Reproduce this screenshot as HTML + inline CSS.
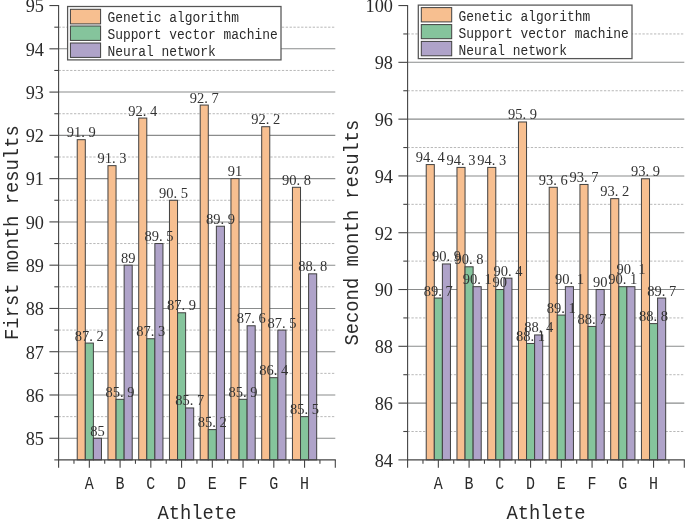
<!DOCTYPE html>
<html><head><meta charset="utf-8"><title>Athlete results</title>
<style>html,body{margin:0;padding:0;background:#fff;}svg{display:block;}</style></head>
<body><svg width="685" height="520" viewBox="0 0 685 520">
<rect width="685" height="520" fill="#fff"/>
<line x1="58.60" y1="416.63" x2="335.30" y2="416.63" stroke="#9a9a9a" stroke-width="0.7" stroke-dasharray="2.3 1.55"/>
<line x1="58.60" y1="373.36" x2="335.30" y2="373.36" stroke="#9a9a9a" stroke-width="0.7" stroke-dasharray="2.3 1.55"/>
<line x1="58.60" y1="330.09" x2="335.30" y2="330.09" stroke="#9a9a9a" stroke-width="0.7" stroke-dasharray="2.3 1.55"/>
<line x1="58.60" y1="286.81" x2="335.30" y2="286.81" stroke="#9a9a9a" stroke-width="0.7" stroke-dasharray="2.3 1.55"/>
<line x1="58.60" y1="243.54" x2="335.30" y2="243.54" stroke="#9a9a9a" stroke-width="0.7" stroke-dasharray="2.3 1.55"/>
<line x1="58.60" y1="200.27" x2="335.30" y2="200.27" stroke="#9a9a9a" stroke-width="0.7" stroke-dasharray="2.3 1.55"/>
<line x1="58.60" y1="157.00" x2="335.30" y2="157.00" stroke="#9a9a9a" stroke-width="0.7" stroke-dasharray="2.3 1.55"/>
<line x1="58.60" y1="113.73" x2="335.30" y2="113.73" stroke="#9a9a9a" stroke-width="0.7" stroke-dasharray="2.3 1.55"/>
<line x1="58.60" y1="70.46" x2="335.30" y2="70.46" stroke="#9a9a9a" stroke-width="0.7" stroke-dasharray="2.3 1.55"/>
<line x1="58.60" y1="27.19" x2="335.30" y2="27.19" stroke="#9a9a9a" stroke-width="0.7" stroke-dasharray="2.3 1.55"/>
<line x1="58.60" y1="438.26" x2="335.30" y2="438.26" stroke="#8a8c8c" stroke-width="1.05"/>
<line x1="58.60" y1="394.99" x2="335.30" y2="394.99" stroke="#8a8c8c" stroke-width="1.05"/>
<line x1="58.60" y1="351.72" x2="335.30" y2="351.72" stroke="#8a8c8c" stroke-width="1.05"/>
<line x1="58.60" y1="308.45" x2="335.30" y2="308.45" stroke="#8a8c8c" stroke-width="1.05"/>
<line x1="58.60" y1="265.18" x2="335.30" y2="265.18" stroke="#8a8c8c" stroke-width="1.05"/>
<line x1="58.60" y1="221.91" x2="335.30" y2="221.91" stroke="#8a8c8c" stroke-width="1.05"/>
<line x1="58.60" y1="178.64" x2="335.30" y2="178.64" stroke="#8a8c8c" stroke-width="1.05"/>
<line x1="58.60" y1="135.36" x2="335.30" y2="135.36" stroke="#8a8c8c" stroke-width="1.05"/>
<line x1="58.60" y1="92.09" x2="335.30" y2="92.09" stroke="#8a8c8c" stroke-width="1.05"/>
<line x1="58.60" y1="48.82" x2="335.30" y2="48.82" stroke="#8a8c8c" stroke-width="1.05"/>
<rect x="77.22" y="139.69" width="8.08" height="320.21" fill="#F7BF90" stroke="#404040" stroke-width="1"/>
<rect x="85.30" y="343.07" width="8.08" height="116.83" fill="#85C49C" stroke="#404040" stroke-width="1"/>
<rect x="93.38" y="438.26" width="8.08" height="21.64" fill="#AFA3C9" stroke="#404040" stroke-width="1"/>
<rect x="107.97" y="165.65" width="8.08" height="294.25" fill="#F7BF90" stroke="#404040" stroke-width="1"/>
<rect x="116.05" y="399.32" width="8.08" height="60.58" fill="#85C49C" stroke="#404040" stroke-width="1"/>
<rect x="124.13" y="265.18" width="8.08" height="194.72" fill="#AFA3C9" stroke="#404040" stroke-width="1"/>
<rect x="138.71" y="118.06" width="8.08" height="341.84" fill="#F7BF90" stroke="#404040" stroke-width="1"/>
<rect x="146.79" y="338.74" width="8.08" height="121.16" fill="#85C49C" stroke="#404040" stroke-width="1"/>
<rect x="154.87" y="243.54" width="8.08" height="216.36" fill="#AFA3C9" stroke="#404040" stroke-width="1"/>
<rect x="169.46" y="200.27" width="8.08" height="259.63" fill="#F7BF90" stroke="#404040" stroke-width="1"/>
<rect x="177.54" y="312.78" width="8.08" height="147.12" fill="#85C49C" stroke="#404040" stroke-width="1"/>
<rect x="185.62" y="407.97" width="8.08" height="51.93" fill="#AFA3C9" stroke="#404040" stroke-width="1"/>
<rect x="200.20" y="105.07" width="8.08" height="354.83" fill="#F7BF90" stroke="#404040" stroke-width="1"/>
<rect x="208.28" y="429.61" width="8.08" height="30.29" fill="#85C49C" stroke="#404040" stroke-width="1"/>
<rect x="216.36" y="226.23" width="8.08" height="233.67" fill="#AFA3C9" stroke="#404040" stroke-width="1"/>
<rect x="230.95" y="178.64" width="8.08" height="281.26" fill="#F7BF90" stroke="#404040" stroke-width="1"/>
<rect x="239.03" y="399.32" width="8.08" height="60.58" fill="#85C49C" stroke="#404040" stroke-width="1"/>
<rect x="247.11" y="325.76" width="8.08" height="134.14" fill="#AFA3C9" stroke="#404040" stroke-width="1"/>
<rect x="261.69" y="126.71" width="8.08" height="333.19" fill="#F7BF90" stroke="#404040" stroke-width="1"/>
<rect x="269.77" y="377.68" width="8.08" height="82.22" fill="#85C49C" stroke="#404040" stroke-width="1"/>
<rect x="277.85" y="330.09" width="8.08" height="129.81" fill="#AFA3C9" stroke="#404040" stroke-width="1"/>
<rect x="292.44" y="187.29" width="8.08" height="272.61" fill="#F7BF90" stroke="#404040" stroke-width="1"/>
<rect x="300.52" y="416.63" width="8.08" height="43.27" fill="#85C49C" stroke="#404040" stroke-width="1"/>
<rect x="308.60" y="273.83" width="8.08" height="186.07" fill="#AFA3C9" stroke="#404040" stroke-width="1"/>
<line x1="58.60" y1="5.00" x2="58.60" y2="460.45" stroke="#444444" stroke-width="1.1"/>
<line x1="58.05" y1="459.90" x2="335.85" y2="459.90" stroke="#444444" stroke-width="1.1"/>
<line x1="49.40" y1="438.26" x2="58.60" y2="438.26" stroke="#444444" stroke-width="1.1"/>
<text transform="translate(44.00,445.06)" x="-18.30 -9.15" y="0" font-family="'Liberation Serif', serif" font-size="18.3" fill="#2a2a2a">85</text>
<line x1="49.40" y1="394.99" x2="58.60" y2="394.99" stroke="#444444" stroke-width="1.1"/>
<text transform="translate(44.00,401.79)" x="-18.30 -9.15" y="0" font-family="'Liberation Serif', serif" font-size="18.3" fill="#2a2a2a">86</text>
<line x1="49.40" y1="351.72" x2="58.60" y2="351.72" stroke="#444444" stroke-width="1.1"/>
<text transform="translate(44.00,358.52)" x="-18.30 -9.15" y="0" font-family="'Liberation Serif', serif" font-size="18.3" fill="#2a2a2a">87</text>
<line x1="49.40" y1="308.45" x2="58.60" y2="308.45" stroke="#444444" stroke-width="1.1"/>
<text transform="translate(44.00,315.25)" x="-18.30 -9.15" y="0" font-family="'Liberation Serif', serif" font-size="18.3" fill="#2a2a2a">88</text>
<line x1="49.40" y1="265.18" x2="58.60" y2="265.18" stroke="#444444" stroke-width="1.1"/>
<text transform="translate(44.00,271.98)" x="-18.30 -9.15" y="0" font-family="'Liberation Serif', serif" font-size="18.3" fill="#2a2a2a">89</text>
<line x1="49.40" y1="221.91" x2="58.60" y2="221.91" stroke="#444444" stroke-width="1.1"/>
<text transform="translate(44.00,228.71)" x="-18.30 -9.15" y="0" font-family="'Liberation Serif', serif" font-size="18.3" fill="#2a2a2a">90</text>
<line x1="49.40" y1="178.64" x2="58.60" y2="178.64" stroke="#444444" stroke-width="1.1"/>
<text transform="translate(44.00,185.44)" x="-18.30 -9.15" y="0" font-family="'Liberation Serif', serif" font-size="18.3" fill="#2a2a2a">91</text>
<line x1="49.40" y1="135.36" x2="58.60" y2="135.36" stroke="#444444" stroke-width="1.1"/>
<text transform="translate(44.00,142.16)" x="-18.30 -9.15" y="0" font-family="'Liberation Serif', serif" font-size="18.3" fill="#2a2a2a">92</text>
<line x1="49.40" y1="92.09" x2="58.60" y2="92.09" stroke="#444444" stroke-width="1.1"/>
<text transform="translate(44.00,98.89)" x="-18.30 -9.15" y="0" font-family="'Liberation Serif', serif" font-size="18.3" fill="#2a2a2a">93</text>
<line x1="49.40" y1="48.82" x2="58.60" y2="48.82" stroke="#444444" stroke-width="1.1"/>
<text transform="translate(44.00,55.62)" x="-18.30 -9.15" y="0" font-family="'Liberation Serif', serif" font-size="18.3" fill="#2a2a2a">94</text>
<line x1="49.40" y1="5.55" x2="58.60" y2="5.55" stroke="#444444" stroke-width="1.1"/>
<text transform="translate(44.00,12.35)" x="-18.30 -9.15" y="0" font-family="'Liberation Serif', serif" font-size="18.3" fill="#2a2a2a">95</text>
<line x1="54.30" y1="459.90" x2="58.60" y2="459.90" stroke="#444444" stroke-width="1.1"/>
<line x1="54.30" y1="416.63" x2="58.60" y2="416.63" stroke="#444444" stroke-width="1.1"/>
<line x1="54.30" y1="373.36" x2="58.60" y2="373.36" stroke="#444444" stroke-width="1.1"/>
<line x1="54.30" y1="330.09" x2="58.60" y2="330.09" stroke="#444444" stroke-width="1.1"/>
<line x1="54.30" y1="286.81" x2="58.60" y2="286.81" stroke="#444444" stroke-width="1.1"/>
<line x1="54.30" y1="243.54" x2="58.60" y2="243.54" stroke="#444444" stroke-width="1.1"/>
<line x1="54.30" y1="200.27" x2="58.60" y2="200.27" stroke="#444444" stroke-width="1.1"/>
<line x1="54.30" y1="157.00" x2="58.60" y2="157.00" stroke="#444444" stroke-width="1.1"/>
<line x1="54.30" y1="113.73" x2="58.60" y2="113.73" stroke="#444444" stroke-width="1.1"/>
<line x1="54.30" y1="70.46" x2="58.60" y2="70.46" stroke="#444444" stroke-width="1.1"/>
<line x1="54.30" y1="27.19" x2="58.60" y2="27.19" stroke="#444444" stroke-width="1.1"/>
<line x1="58.60" y1="459.90" x2="58.60" y2="467.80" stroke="#444444" stroke-width="1.1"/>
<line x1="73.97" y1="459.90" x2="73.97" y2="463.80" stroke="#444444" stroke-width="1.1"/>
<line x1="89.34" y1="459.90" x2="89.34" y2="467.80" stroke="#444444" stroke-width="1.1"/>
<line x1="104.72" y1="459.90" x2="104.72" y2="463.80" stroke="#444444" stroke-width="1.1"/>
<line x1="120.09" y1="459.90" x2="120.09" y2="467.80" stroke="#444444" stroke-width="1.1"/>
<line x1="135.46" y1="459.90" x2="135.46" y2="463.80" stroke="#444444" stroke-width="1.1"/>
<line x1="150.83" y1="459.90" x2="150.83" y2="467.80" stroke="#444444" stroke-width="1.1"/>
<line x1="166.21" y1="459.90" x2="166.21" y2="463.80" stroke="#444444" stroke-width="1.1"/>
<line x1="181.58" y1="459.90" x2="181.58" y2="467.80" stroke="#444444" stroke-width="1.1"/>
<line x1="196.95" y1="459.90" x2="196.95" y2="463.80" stroke="#444444" stroke-width="1.1"/>
<line x1="212.32" y1="459.90" x2="212.32" y2="467.80" stroke="#444444" stroke-width="1.1"/>
<line x1="227.69" y1="459.90" x2="227.69" y2="463.80" stroke="#444444" stroke-width="1.1"/>
<line x1="243.07" y1="459.90" x2="243.07" y2="467.80" stroke="#444444" stroke-width="1.1"/>
<line x1="258.44" y1="459.90" x2="258.44" y2="463.80" stroke="#444444" stroke-width="1.1"/>
<line x1="273.81" y1="459.90" x2="273.81" y2="467.80" stroke="#444444" stroke-width="1.1"/>
<line x1="289.18" y1="459.90" x2="289.18" y2="463.80" stroke="#444444" stroke-width="1.1"/>
<line x1="304.56" y1="459.90" x2="304.56" y2="467.80" stroke="#444444" stroke-width="1.1"/>
<line x1="319.93" y1="459.90" x2="319.93" y2="463.80" stroke="#444444" stroke-width="1.1"/>
<line x1="335.30" y1="459.90" x2="335.30" y2="467.80" stroke="#444444" stroke-width="1.1"/>
<text transform="translate(89.34,489.40) scale(0.8333,1.0)" font-family="'Liberation Mono', monospace" font-size="18" text-anchor="middle" fill="#2a2a2a">A</text>
<text transform="translate(120.09,489.40) scale(0.8333,1.0)" font-family="'Liberation Mono', monospace" font-size="18" text-anchor="middle" fill="#2a2a2a">B</text>
<text transform="translate(150.83,489.40) scale(0.8333,1.0)" font-family="'Liberation Mono', monospace" font-size="18" text-anchor="middle" fill="#2a2a2a">C</text>
<text transform="translate(181.58,489.40) scale(0.8333,1.0)" font-family="'Liberation Mono', monospace" font-size="18" text-anchor="middle" fill="#2a2a2a">D</text>
<text transform="translate(212.32,489.40) scale(0.8333,1.0)" font-family="'Liberation Mono', monospace" font-size="18" text-anchor="middle" fill="#2a2a2a">E</text>
<text transform="translate(243.07,489.40) scale(0.8333,1.0)" font-family="'Liberation Mono', monospace" font-size="18" text-anchor="middle" fill="#2a2a2a">F</text>
<text transform="translate(273.81,489.40) scale(0.8333,1.0)" font-family="'Liberation Mono', monospace" font-size="18" text-anchor="middle" fill="#2a2a2a">G</text>
<text transform="translate(304.56,489.40) scale(0.8333,1.0)" font-family="'Liberation Mono', monospace" font-size="18" text-anchor="middle" fill="#2a2a2a">H</text>
<text transform="translate(196.95,519.30) scale(0.8333,0.9)" font-family="'Liberation Mono', monospace" font-size="22.6" text-anchor="middle" fill="#2a2a2a">Athlete</text>
<text transform="translate(18.10,232.60) rotate(-90) scale(0.8333,0.9)" font-family="'Liberation Mono', monospace" font-size="22.6" text-anchor="middle" fill="#2a2a2a">First month results</text>
<text transform="translate(81.26,137.19)" x="-14.50 -7.25 0.00 7.25" y="0" font-family="'Liberation Serif', serif" font-size="14.5" fill="#333">91.9</text>
<text transform="translate(89.34,340.57)" x="-14.50 -7.25 0.00 7.25" y="0" font-family="'Liberation Serif', serif" font-size="14.5" fill="#333">87.2</text>
<text transform="translate(97.42,435.76)" x="-7.25 0.00" y="0" font-family="'Liberation Serif', serif" font-size="14.5" fill="#333">85</text>
<text transform="translate(112.01,163.15)" x="-14.50 -7.25 0.00 7.25" y="0" font-family="'Liberation Serif', serif" font-size="14.5" fill="#333">91.3</text>
<text transform="translate(120.09,396.82)" x="-14.50 -7.25 0.00 7.25" y="0" font-family="'Liberation Serif', serif" font-size="14.5" fill="#333">85.9</text>
<text transform="translate(128.17,262.68)" x="-7.25 0.00" y="0" font-family="'Liberation Serif', serif" font-size="14.5" fill="#333">89</text>
<text transform="translate(142.75,115.56)" x="-14.50 -7.25 0.00 7.25" y="0" font-family="'Liberation Serif', serif" font-size="14.5" fill="#333">92.4</text>
<text transform="translate(150.83,336.24)" x="-14.50 -7.25 0.00 7.25" y="0" font-family="'Liberation Serif', serif" font-size="14.5" fill="#333">87.3</text>
<text transform="translate(158.91,241.04)" x="-14.50 -7.25 0.00 7.25" y="0" font-family="'Liberation Serif', serif" font-size="14.5" fill="#333">89.5</text>
<text transform="translate(173.50,197.77)" x="-14.50 -7.25 0.00 7.25" y="0" font-family="'Liberation Serif', serif" font-size="14.5" fill="#333">90.5</text>
<text transform="translate(181.58,310.28)" x="-14.50 -7.25 0.00 7.25" y="0" font-family="'Liberation Serif', serif" font-size="14.5" fill="#333">87.9</text>
<text transform="translate(189.66,405.47)" x="-14.50 -7.25 0.00 7.25" y="0" font-family="'Liberation Serif', serif" font-size="14.5" fill="#333">85.7</text>
<text transform="translate(204.24,102.57)" x="-14.50 -7.25 0.00 7.25" y="0" font-family="'Liberation Serif', serif" font-size="14.5" fill="#333">92.7</text>
<text transform="translate(212.32,427.11)" x="-14.50 -7.25 0.00 7.25" y="0" font-family="'Liberation Serif', serif" font-size="14.5" fill="#333">85.2</text>
<text transform="translate(220.40,223.73)" x="-14.50 -7.25 0.00 7.25" y="0" font-family="'Liberation Serif', serif" font-size="14.5" fill="#333">89.9</text>
<text transform="translate(234.99,176.14)" x="-7.25 0.00" y="0" font-family="'Liberation Serif', serif" font-size="14.5" fill="#333">91</text>
<text transform="translate(243.07,396.82)" x="-14.50 -7.25 0.00 7.25" y="0" font-family="'Liberation Serif', serif" font-size="14.5" fill="#333">85.9</text>
<text transform="translate(251.15,323.26)" x="-14.50 -7.25 0.00 7.25" y="0" font-family="'Liberation Serif', serif" font-size="14.5" fill="#333">87.6</text>
<text transform="translate(265.73,124.21)" x="-14.50 -7.25 0.00 7.25" y="0" font-family="'Liberation Serif', serif" font-size="14.5" fill="#333">92.2</text>
<text transform="translate(273.81,375.18)" x="-14.50 -7.25 0.00 7.25" y="0" font-family="'Liberation Serif', serif" font-size="14.5" fill="#333">86.4</text>
<text transform="translate(281.89,327.59)" x="-14.50 -7.25 0.00 7.25" y="0" font-family="'Liberation Serif', serif" font-size="14.5" fill="#333">87.5</text>
<text transform="translate(296.48,184.79)" x="-14.50 -7.25 0.00 7.25" y="0" font-family="'Liberation Serif', serif" font-size="14.5" fill="#333">90.8</text>
<text transform="translate(304.56,414.13)" x="-14.50 -7.25 0.00 7.25" y="0" font-family="'Liberation Serif', serif" font-size="14.5" fill="#333">85.5</text>
<text transform="translate(312.64,271.33)" x="-14.50 -7.25 0.00 7.25" y="0" font-family="'Liberation Serif', serif" font-size="14.5" fill="#333">88.8</text>
<rect x="67.6" y="6.5" width="213.4" height="53.4" fill="#fff" stroke="#555" stroke-width="1.25"/>
<rect x="70.4" y="9.3" width="30.19999999999999" height="14.599999999999998" fill="#F7BF90" stroke="#404040" stroke-width="1"/>
<text transform="translate(107.40,22.30) scale(0.8333,0.97)" font-family="'Liberation Mono', monospace" font-size="15.5" text-anchor="start" fill="#2a2a2a">Genetic algorithm</text>
<rect x="70.4" y="26.0" width="30.19999999999999" height="14.399999999999999" fill="#85C49C" stroke="#404040" stroke-width="1"/>
<text transform="translate(107.40,38.80) scale(0.8333,0.97)" font-family="'Liberation Mono', monospace" font-size="15.5" text-anchor="start" fill="#2a2a2a">Support vector machine</text>
<rect x="70.4" y="43.0" width="30.19999999999999" height="14.399999999999999" fill="#AFA3C9" stroke="#404040" stroke-width="1"/>
<text transform="translate(107.40,56.05) scale(0.8333,0.97)" font-family="'Liberation Mono', monospace" font-size="15.5" text-anchor="start" fill="#2a2a2a">Neural network</text>
<line x1="407.60" y1="431.50" x2="684.30" y2="431.50" stroke="#9a9a9a" stroke-width="0.7" stroke-dasharray="2.3 1.55"/>
<line x1="407.60" y1="374.71" x2="684.30" y2="374.71" stroke="#9a9a9a" stroke-width="0.7" stroke-dasharray="2.3 1.55"/>
<line x1="407.60" y1="317.92" x2="684.30" y2="317.92" stroke="#9a9a9a" stroke-width="0.7" stroke-dasharray="2.3 1.55"/>
<line x1="407.60" y1="261.12" x2="684.30" y2="261.12" stroke="#9a9a9a" stroke-width="0.7" stroke-dasharray="2.3 1.55"/>
<line x1="407.60" y1="204.33" x2="684.30" y2="204.33" stroke="#9a9a9a" stroke-width="0.7" stroke-dasharray="2.3 1.55"/>
<line x1="407.60" y1="147.53" x2="684.30" y2="147.53" stroke="#9a9a9a" stroke-width="0.7" stroke-dasharray="2.3 1.55"/>
<line x1="407.60" y1="90.74" x2="684.30" y2="90.74" stroke="#9a9a9a" stroke-width="0.7" stroke-dasharray="2.3 1.55"/>
<line x1="407.60" y1="33.95" x2="684.30" y2="33.95" stroke="#9a9a9a" stroke-width="0.7" stroke-dasharray="2.3 1.55"/>
<line x1="407.60" y1="403.11" x2="684.30" y2="403.11" stroke="#8a8c8c" stroke-width="1.05"/>
<line x1="407.60" y1="346.31" x2="684.30" y2="346.31" stroke="#8a8c8c" stroke-width="1.05"/>
<line x1="407.60" y1="289.52" x2="684.30" y2="289.52" stroke="#8a8c8c" stroke-width="1.05"/>
<line x1="407.60" y1="232.72" x2="684.30" y2="232.72" stroke="#8a8c8c" stroke-width="1.05"/>
<line x1="407.60" y1="175.93" x2="684.30" y2="175.93" stroke="#8a8c8c" stroke-width="1.05"/>
<line x1="407.60" y1="119.14" x2="684.30" y2="119.14" stroke="#8a8c8c" stroke-width="1.05"/>
<line x1="407.60" y1="62.34" x2="684.30" y2="62.34" stroke="#8a8c8c" stroke-width="1.05"/>
<rect x="426.22" y="164.57" width="8.08" height="295.33" fill="#F7BF90" stroke="#404040" stroke-width="1"/>
<rect x="434.30" y="298.04" width="8.08" height="161.86" fill="#85C49C" stroke="#404040" stroke-width="1"/>
<rect x="442.38" y="263.96" width="8.08" height="195.94" fill="#AFA3C9" stroke="#404040" stroke-width="1"/>
<rect x="456.97" y="167.41" width="8.08" height="292.49" fill="#F7BF90" stroke="#404040" stroke-width="1"/>
<rect x="465.05" y="266.80" width="8.08" height="193.10" fill="#85C49C" stroke="#404040" stroke-width="1"/>
<rect x="473.13" y="286.68" width="8.08" height="173.22" fill="#AFA3C9" stroke="#404040" stroke-width="1"/>
<rect x="487.71" y="167.41" width="8.08" height="292.49" fill="#F7BF90" stroke="#404040" stroke-width="1"/>
<rect x="495.79" y="289.52" width="8.08" height="170.38" fill="#85C49C" stroke="#404040" stroke-width="1"/>
<rect x="503.87" y="278.16" width="8.08" height="181.74" fill="#AFA3C9" stroke="#404040" stroke-width="1"/>
<rect x="518.46" y="121.98" width="8.08" height="337.92" fill="#F7BF90" stroke="#404040" stroke-width="1"/>
<rect x="526.54" y="343.47" width="8.08" height="116.43" fill="#85C49C" stroke="#404040" stroke-width="1"/>
<rect x="534.62" y="334.95" width="8.08" height="124.95" fill="#AFA3C9" stroke="#404040" stroke-width="1"/>
<rect x="549.20" y="187.29" width="8.08" height="272.61" fill="#F7BF90" stroke="#404040" stroke-width="1"/>
<rect x="557.28" y="315.08" width="8.08" height="144.82" fill="#85C49C" stroke="#404040" stroke-width="1"/>
<rect x="565.36" y="286.68" width="8.08" height="173.22" fill="#AFA3C9" stroke="#404040" stroke-width="1"/>
<rect x="579.95" y="184.45" width="8.08" height="275.45" fill="#F7BF90" stroke="#404040" stroke-width="1"/>
<rect x="588.03" y="326.43" width="8.08" height="133.47" fill="#85C49C" stroke="#404040" stroke-width="1"/>
<rect x="596.11" y="289.52" width="8.08" height="170.38" fill="#AFA3C9" stroke="#404040" stroke-width="1"/>
<rect x="610.69" y="198.65" width="8.08" height="261.25" fill="#F7BF90" stroke="#404040" stroke-width="1"/>
<rect x="618.77" y="286.68" width="8.08" height="173.22" fill="#85C49C" stroke="#404040" stroke-width="1"/>
<rect x="626.85" y="286.68" width="8.08" height="173.22" fill="#AFA3C9" stroke="#404040" stroke-width="1"/>
<rect x="641.44" y="178.77" width="8.08" height="281.13" fill="#F7BF90" stroke="#404040" stroke-width="1"/>
<rect x="649.52" y="323.60" width="8.08" height="136.30" fill="#85C49C" stroke="#404040" stroke-width="1"/>
<rect x="657.60" y="298.04" width="8.08" height="161.86" fill="#AFA3C9" stroke="#404040" stroke-width="1"/>
<line x1="407.60" y1="5.00" x2="407.60" y2="460.45" stroke="#444444" stroke-width="1.1"/>
<line x1="407.05" y1="459.90" x2="684.85" y2="459.90" stroke="#444444" stroke-width="1.1"/>
<line x1="398.40" y1="459.90" x2="407.60" y2="459.90" stroke="#444444" stroke-width="1.1"/>
<text transform="translate(393.00,466.70)" x="-18.30 -9.15" y="0" font-family="'Liberation Serif', serif" font-size="18.3" fill="#2a2a2a">84</text>
<line x1="398.40" y1="403.11" x2="407.60" y2="403.11" stroke="#444444" stroke-width="1.1"/>
<text transform="translate(393.00,409.91)" x="-18.30 -9.15" y="0" font-family="'Liberation Serif', serif" font-size="18.3" fill="#2a2a2a">86</text>
<line x1="398.40" y1="346.31" x2="407.60" y2="346.31" stroke="#444444" stroke-width="1.1"/>
<text transform="translate(393.00,353.11)" x="-18.30 -9.15" y="0" font-family="'Liberation Serif', serif" font-size="18.3" fill="#2a2a2a">88</text>
<line x1="398.40" y1="289.52" x2="407.60" y2="289.52" stroke="#444444" stroke-width="1.1"/>
<text transform="translate(393.00,296.32)" x="-18.30 -9.15" y="0" font-family="'Liberation Serif', serif" font-size="18.3" fill="#2a2a2a">90</text>
<line x1="398.40" y1="232.72" x2="407.60" y2="232.72" stroke="#444444" stroke-width="1.1"/>
<text transform="translate(393.00,239.53)" x="-18.30 -9.15" y="0" font-family="'Liberation Serif', serif" font-size="18.3" fill="#2a2a2a">92</text>
<line x1="398.40" y1="175.93" x2="407.60" y2="175.93" stroke="#444444" stroke-width="1.1"/>
<text transform="translate(393.00,182.73)" x="-18.30 -9.15" y="0" font-family="'Liberation Serif', serif" font-size="18.3" fill="#2a2a2a">94</text>
<line x1="398.40" y1="119.14" x2="407.60" y2="119.14" stroke="#444444" stroke-width="1.1"/>
<text transform="translate(393.00,125.94)" x="-18.30 -9.15" y="0" font-family="'Liberation Serif', serif" font-size="18.3" fill="#2a2a2a">96</text>
<line x1="398.40" y1="62.34" x2="407.60" y2="62.34" stroke="#444444" stroke-width="1.1"/>
<text transform="translate(393.00,69.14)" x="-18.30 -9.15" y="0" font-family="'Liberation Serif', serif" font-size="18.3" fill="#2a2a2a">98</text>
<line x1="398.40" y1="5.55" x2="407.60" y2="5.55" stroke="#444444" stroke-width="1.1"/>
<text transform="translate(393.00,12.35)" x="-27.45 -18.30 -9.15" y="0" font-family="'Liberation Serif', serif" font-size="18.3" fill="#2a2a2a">100</text>
<line x1="403.30" y1="431.50" x2="407.60" y2="431.50" stroke="#444444" stroke-width="1.1"/>
<line x1="403.30" y1="374.71" x2="407.60" y2="374.71" stroke="#444444" stroke-width="1.1"/>
<line x1="403.30" y1="317.92" x2="407.60" y2="317.92" stroke="#444444" stroke-width="1.1"/>
<line x1="403.30" y1="261.12" x2="407.60" y2="261.12" stroke="#444444" stroke-width="1.1"/>
<line x1="403.30" y1="204.33" x2="407.60" y2="204.33" stroke="#444444" stroke-width="1.1"/>
<line x1="403.30" y1="147.53" x2="407.60" y2="147.53" stroke="#444444" stroke-width="1.1"/>
<line x1="403.30" y1="90.74" x2="407.60" y2="90.74" stroke="#444444" stroke-width="1.1"/>
<line x1="403.30" y1="33.95" x2="407.60" y2="33.95" stroke="#444444" stroke-width="1.1"/>
<line x1="407.60" y1="459.90" x2="407.60" y2="467.80" stroke="#444444" stroke-width="1.1"/>
<line x1="422.97" y1="459.90" x2="422.97" y2="463.80" stroke="#444444" stroke-width="1.1"/>
<line x1="438.34" y1="459.90" x2="438.34" y2="467.80" stroke="#444444" stroke-width="1.1"/>
<line x1="453.72" y1="459.90" x2="453.72" y2="463.80" stroke="#444444" stroke-width="1.1"/>
<line x1="469.09" y1="459.90" x2="469.09" y2="467.80" stroke="#444444" stroke-width="1.1"/>
<line x1="484.46" y1="459.90" x2="484.46" y2="463.80" stroke="#444444" stroke-width="1.1"/>
<line x1="499.83" y1="459.90" x2="499.83" y2="467.80" stroke="#444444" stroke-width="1.1"/>
<line x1="515.21" y1="459.90" x2="515.21" y2="463.80" stroke="#444444" stroke-width="1.1"/>
<line x1="530.58" y1="459.90" x2="530.58" y2="467.80" stroke="#444444" stroke-width="1.1"/>
<line x1="545.95" y1="459.90" x2="545.95" y2="463.80" stroke="#444444" stroke-width="1.1"/>
<line x1="561.32" y1="459.90" x2="561.32" y2="467.80" stroke="#444444" stroke-width="1.1"/>
<line x1="576.69" y1="459.90" x2="576.69" y2="463.80" stroke="#444444" stroke-width="1.1"/>
<line x1="592.07" y1="459.90" x2="592.07" y2="467.80" stroke="#444444" stroke-width="1.1"/>
<line x1="607.44" y1="459.90" x2="607.44" y2="463.80" stroke="#444444" stroke-width="1.1"/>
<line x1="622.81" y1="459.90" x2="622.81" y2="467.80" stroke="#444444" stroke-width="1.1"/>
<line x1="638.18" y1="459.90" x2="638.18" y2="463.80" stroke="#444444" stroke-width="1.1"/>
<line x1="653.56" y1="459.90" x2="653.56" y2="467.80" stroke="#444444" stroke-width="1.1"/>
<line x1="668.93" y1="459.90" x2="668.93" y2="463.80" stroke="#444444" stroke-width="1.1"/>
<line x1="684.30" y1="459.90" x2="684.30" y2="467.80" stroke="#444444" stroke-width="1.1"/>
<text transform="translate(438.34,489.40) scale(0.8333,1.0)" font-family="'Liberation Mono', monospace" font-size="18" text-anchor="middle" fill="#2a2a2a">A</text>
<text transform="translate(469.09,489.40) scale(0.8333,1.0)" font-family="'Liberation Mono', monospace" font-size="18" text-anchor="middle" fill="#2a2a2a">B</text>
<text transform="translate(499.83,489.40) scale(0.8333,1.0)" font-family="'Liberation Mono', monospace" font-size="18" text-anchor="middle" fill="#2a2a2a">C</text>
<text transform="translate(530.58,489.40) scale(0.8333,1.0)" font-family="'Liberation Mono', monospace" font-size="18" text-anchor="middle" fill="#2a2a2a">D</text>
<text transform="translate(561.32,489.40) scale(0.8333,1.0)" font-family="'Liberation Mono', monospace" font-size="18" text-anchor="middle" fill="#2a2a2a">E</text>
<text transform="translate(592.07,489.40) scale(0.8333,1.0)" font-family="'Liberation Mono', monospace" font-size="18" text-anchor="middle" fill="#2a2a2a">F</text>
<text transform="translate(622.81,489.40) scale(0.8333,1.0)" font-family="'Liberation Mono', monospace" font-size="18" text-anchor="middle" fill="#2a2a2a">G</text>
<text transform="translate(653.56,489.40) scale(0.8333,1.0)" font-family="'Liberation Mono', monospace" font-size="18" text-anchor="middle" fill="#2a2a2a">H</text>
<text transform="translate(545.95,519.30) scale(0.8333,0.9)" font-family="'Liberation Mono', monospace" font-size="22.6" text-anchor="middle" fill="#2a2a2a">Athlete</text>
<text transform="translate(357.80,232.60) rotate(-90) scale(0.8333,0.9)" font-family="'Liberation Mono', monospace" font-size="22.6" text-anchor="middle" fill="#2a2a2a">Second month results</text>
<text transform="translate(430.26,162.07)" x="-14.50 -7.25 0.00 7.25" y="0" font-family="'Liberation Serif', serif" font-size="14.5" fill="#333">94.4</text>
<text transform="translate(438.34,295.54)" x="-14.50 -7.25 0.00 7.25" y="0" font-family="'Liberation Serif', serif" font-size="14.5" fill="#333">89.7</text>
<text transform="translate(446.42,261.46)" x="-14.50 -7.25 0.00 7.25" y="0" font-family="'Liberation Serif', serif" font-size="14.5" fill="#333">90.9</text>
<text transform="translate(461.01,164.91)" x="-14.50 -7.25 0.00 7.25" y="0" font-family="'Liberation Serif', serif" font-size="14.5" fill="#333">94.3</text>
<text transform="translate(469.09,264.30)" x="-14.50 -7.25 0.00 7.25" y="0" font-family="'Liberation Serif', serif" font-size="14.5" fill="#333">90.8</text>
<text transform="translate(477.17,284.18)" x="-14.50 -7.25 0.00 7.25" y="0" font-family="'Liberation Serif', serif" font-size="14.5" fill="#333">90.1</text>
<text transform="translate(491.75,164.91)" x="-14.50 -7.25 0.00 7.25" y="0" font-family="'Liberation Serif', serif" font-size="14.5" fill="#333">94.3</text>
<text transform="translate(499.83,287.02)" x="-7.25 0.00" y="0" font-family="'Liberation Serif', serif" font-size="14.5" fill="#333">90</text>
<text transform="translate(507.91,275.66)" x="-14.50 -7.25 0.00 7.25" y="0" font-family="'Liberation Serif', serif" font-size="14.5" fill="#333">90.4</text>
<text transform="translate(522.50,119.48)" x="-14.50 -7.25 0.00 7.25" y="0" font-family="'Liberation Serif', serif" font-size="14.5" fill="#333">95.9</text>
<text transform="translate(530.58,340.97)" x="-14.50 -7.25 0.00 7.25" y="0" font-family="'Liberation Serif', serif" font-size="14.5" fill="#333">88.1</text>
<text transform="translate(538.66,332.45)" x="-14.50 -7.25 0.00 7.25" y="0" font-family="'Liberation Serif', serif" font-size="14.5" fill="#333">88.4</text>
<text transform="translate(553.24,184.79)" x="-14.50 -7.25 0.00 7.25" y="0" font-family="'Liberation Serif', serif" font-size="14.5" fill="#333">93.6</text>
<text transform="translate(561.32,312.58)" x="-14.50 -7.25 0.00 7.25" y="0" font-family="'Liberation Serif', serif" font-size="14.5" fill="#333">89.1</text>
<text transform="translate(569.40,284.18)" x="-14.50 -7.25 0.00 7.25" y="0" font-family="'Liberation Serif', serif" font-size="14.5" fill="#333">90.1</text>
<text transform="translate(583.99,181.95)" x="-14.50 -7.25 0.00 7.25" y="0" font-family="'Liberation Serif', serif" font-size="14.5" fill="#333">93.7</text>
<text transform="translate(592.07,323.93)" x="-14.50 -7.25 0.00 7.25" y="0" font-family="'Liberation Serif', serif" font-size="14.5" fill="#333">88.7</text>
<text transform="translate(600.15,287.02)" x="-7.25 0.00" y="0" font-family="'Liberation Serif', serif" font-size="14.5" fill="#333">90</text>
<text transform="translate(614.73,196.15)" x="-14.50 -7.25 0.00 7.25" y="0" font-family="'Liberation Serif', serif" font-size="14.5" fill="#333">93.2</text>
<text transform="translate(622.81,284.18)" x="-14.50 -7.25 0.00 7.25" y="0" font-family="'Liberation Serif', serif" font-size="14.5" fill="#333">90.1</text>
<text transform="translate(630.89,273.98)" x="-14.50 -7.25 0.00 7.25" y="0" font-family="'Liberation Serif', serif" font-size="14.5" fill="#333">90.1</text>
<text transform="translate(645.48,176.27)" x="-14.50 -7.25 0.00 7.25" y="0" font-family="'Liberation Serif', serif" font-size="14.5" fill="#333">93.9</text>
<text transform="translate(653.56,321.10)" x="-14.50 -7.25 0.00 7.25" y="0" font-family="'Liberation Serif', serif" font-size="14.5" fill="#333">88.8</text>
<text transform="translate(661.64,295.54)" x="-14.50 -7.25 0.00 7.25" y="0" font-family="'Liberation Serif', serif" font-size="14.5" fill="#333">89.7</text>
<rect x="418.3" y="5.1" width="213.7" height="53.5" fill="#fff" stroke="#555" stroke-width="1.25"/>
<rect x="421.3" y="7.6" width="30.399999999999977" height="14.299999999999999" fill="#F7BF90" stroke="#404040" stroke-width="1"/>
<text transform="translate(458.50,20.60) scale(0.8333,0.97)" font-family="'Liberation Mono', monospace" font-size="15.5" text-anchor="start" fill="#2a2a2a">Genetic algorithm</text>
<rect x="421.3" y="24.6" width="30.399999999999977" height="14.100000000000001" fill="#85C49C" stroke="#404040" stroke-width="1"/>
<text transform="translate(458.50,37.50) scale(0.8333,0.97)" font-family="'Liberation Mono', monospace" font-size="15.5" text-anchor="start" fill="#2a2a2a">Support vector machine</text>
<rect x="421.3" y="41.4" width="30.399999999999977" height="14.399999999999999" fill="#AFA3C9" stroke="#404040" stroke-width="1"/>
<text transform="translate(458.50,54.90) scale(0.8333,0.97)" font-family="'Liberation Mono', monospace" font-size="15.5" text-anchor="start" fill="#2a2a2a">Neural network</text>
</svg></body></html>
